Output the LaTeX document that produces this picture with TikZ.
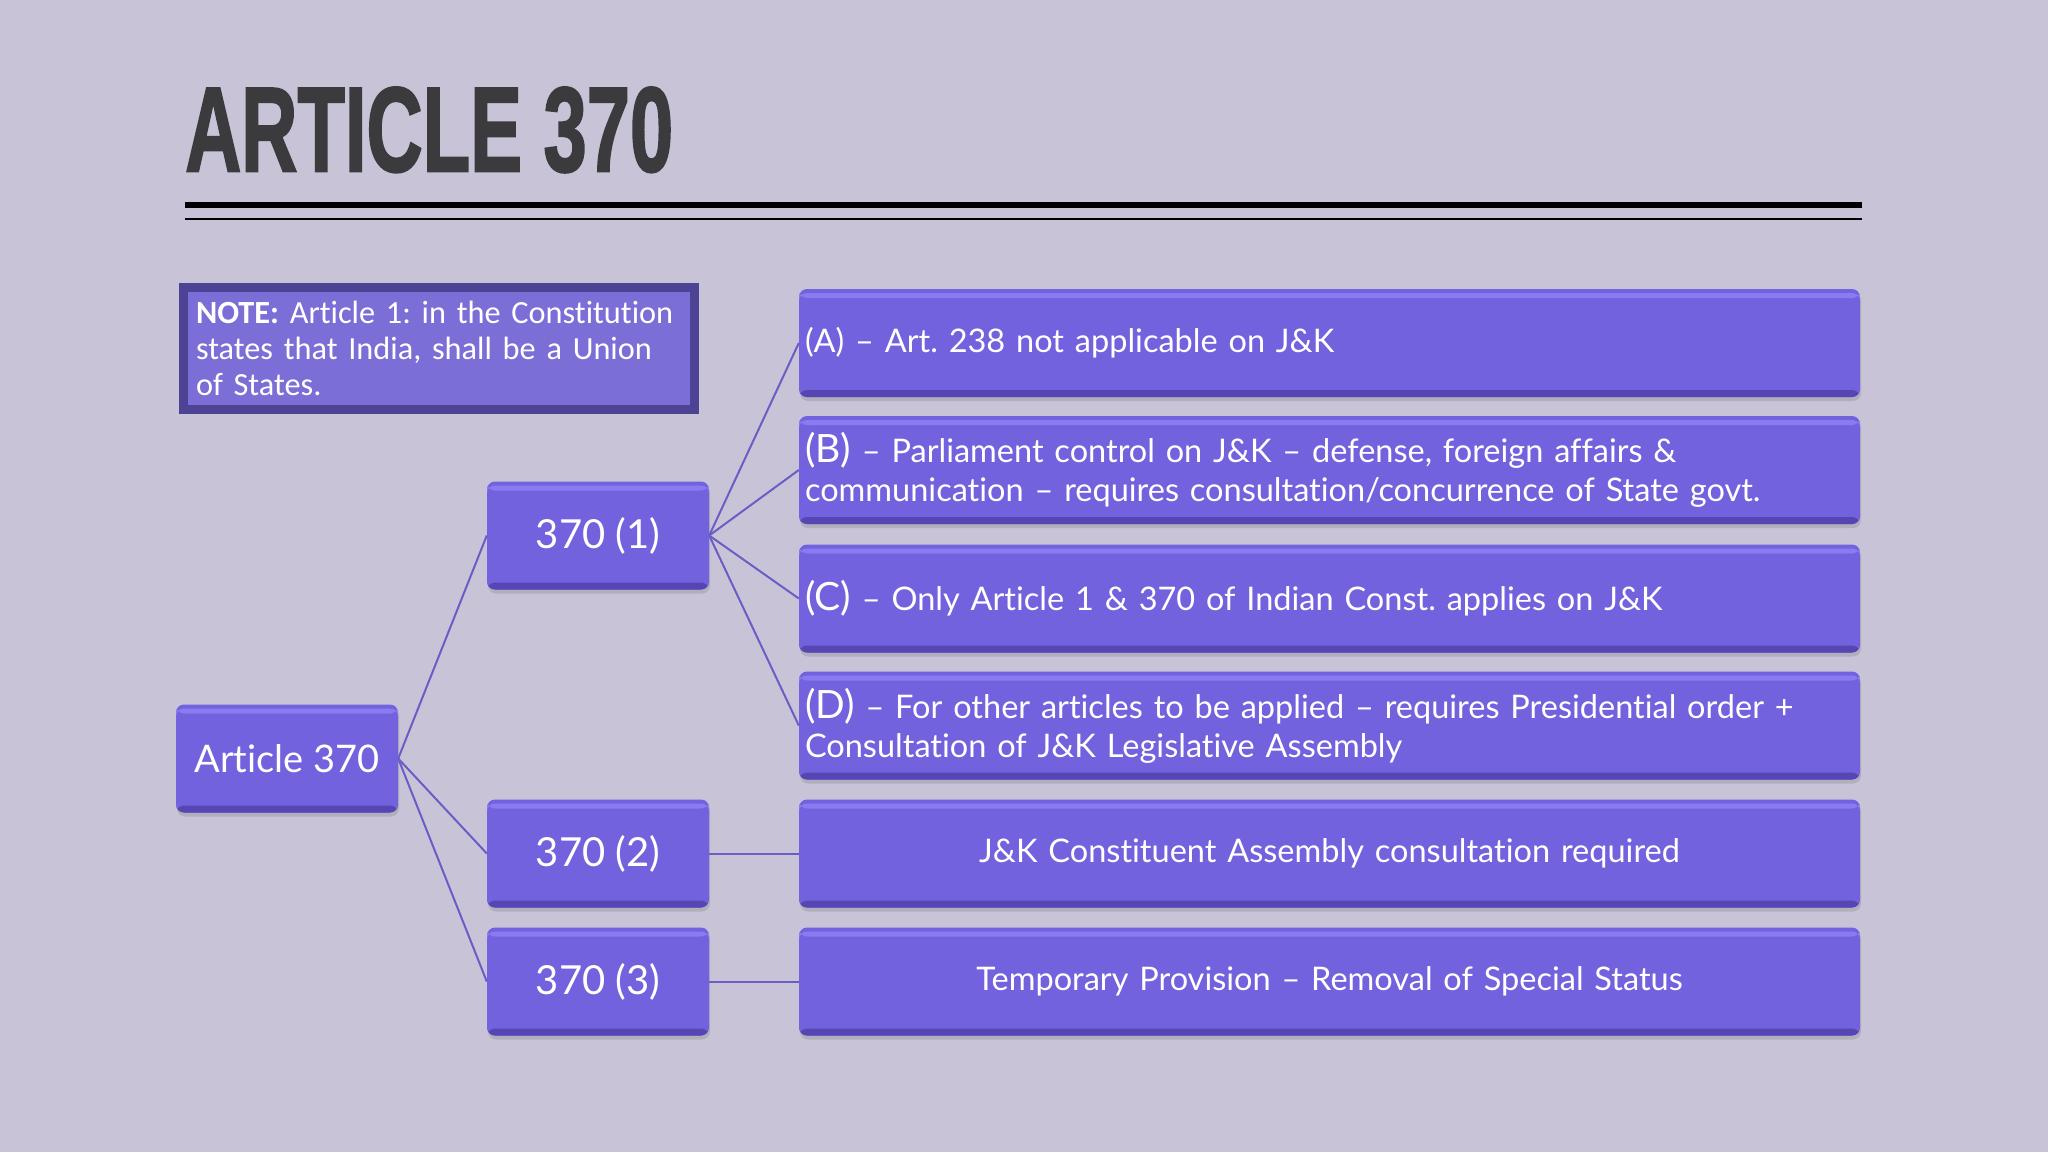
\documentclass[tikz,border=0pt]{standalone}
\usepackage{fontspec}
\setmainfont{Lato}[Ligatures=NoCommon]
\newfontfamily\notefont{Carlito}[Ligatures=NoCommon]
\newfontfamily\titlefont{Liberation Sans}[BoldFeatures={FakeBold=2}]
\usetikzlibrary{positioning,shadows}

\definecolor{bg}{HTML}{C8C3D6}
\definecolor{boxfill}{HTML}{7362DE}
\definecolor{boxtop}{HTML}{8A7CF0}
\definecolor{boxbot}{HTML}{5546B4}
\definecolor{notefill}{HTML}{7B6ED6}
\definecolor{noteedge}{HTML}{4C4394}
\definecolor{edgecol}{HTML}{6A5DC6}
\definecolor{titlegray}{HTML}{3B3B3E}

\newcommand{\lbl}[1]{{\fontsize{39}{42}\selectfont #1}}
\frenchspacing

\begin{document}
\begin{tikzpicture}[x=1pt, y=-1pt,
        box/.style={rounded corners=8pt, fill=boxfill, text=white,
          drop shadow={opacity=0.3, shadow xshift=1pt, shadow yshift=-4pt},
          path picture={
            \fill[boxbot] ([yshift=7pt]path picture bounding box.south west) rectangle (path picture bounding box.south east);
            \fill[boxtop] ([yshift=-4pt]path picture bounding box.north west) rectangle ([yshift=-9pt]path picture bounding box.north east);
          }},
        small_box/.style={box, minimum width=222pt, minimum height=108pt, font=\fontsize{40}{48}\selectfont},
        wide_box/.style={box, minimum width=1061pt, minimum height=108pt, inner xsep=6pt,
          text width=1049pt, align=left, font=\fontsize{32.5}{39}\selectfont},
        note_box/.style={fill=notefill, draw=noteedge, line width=9pt, minimum width=511pt,
          minimum height=122pt, inner xsep=12.5pt, text width=486pt, align=left, text=white,
          font=\notefont\fontsize{32.3}{36}\selectfont},
        edge_style/.style={draw=edgecol, line width=2pt}]
  \useasboundingbox[fill=bg] (0,0) rectangle (2048,1152);

  % heading
  \node[anchor=north west, inner sep=0pt, text=titlegray] (title) at (185,87)
    {\resizebox{488pt}{84pt}{\titlefont\bfseries ARTICLE 370}};
  \draw[line width=6pt] (185,205) -- (1862,205);
  \draw[line width=2pt] (185,219) -- (1862,219);

  \node[note_box] (note) at (439,348.5)
    {\textbf{NOTE:} Article 1: in the Constitution\\ states that India, shall be a Union\\ of States.};

  % tree
  \node[small_box, font=\fontsize{38}{44}\selectfont] (art) at (287,758.5) {Article 370};
  \node[small_box] (one) at (598,535.5) {370 (1)};
  \node[small_box] (two) at (598,853.5) {370 (2)};
  \node[small_box] (three) at (598,981.5) {370 (3)};

  \node[wide_box] (a) at (1329.5,343) {(A) – Art. 238 not applicable on J\&K};
  \node[wide_box] (b) at (1329.5,470) {\lbl{(B)} – Parliament control on J\&K – defense, foreign affairs \&\\ communication – requires consultation/concurrence of State govt.};
  \node[wide_box] (c) at (1329.5,598.5) {\lbl{(C)} – Only Article 1 \& 370 of Indian Const. applies on J\&K};
  \node[wide_box] (d) at (1329.5,725.5) {\lbl{(D)} – For other articles to be applied – requires Presidential order +\\ Consultation of J\&K Legislative Assembly};
  \node[wide_box, align=center] (e) at (1329.5,853.5) {J\&K Constituent Assembly consultation required};
  \node[wide_box, align=center] (f) at (1329.5,981.5) {Temporary Provision – Removal of Special Status};

  \foreach \n in {one,two,three}
    \draw[edge_style] (art.east) -- (\n.west);
  \foreach \n in {a,b,c,d}
    \draw[edge_style] (one.east) -- (\n.west);
  \draw[edge_style] (two.east) -- (e.west);
  \draw[edge_style] (three.east) -- (f.west);
\end{tikzpicture}
\end{document}
